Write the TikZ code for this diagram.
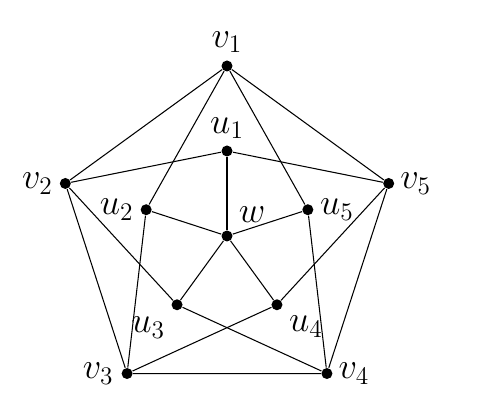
\documentclass[tikz,border=0pt]{standalone}
\usetikzlibrary{calc}
\tikzset{
    vdot/.style={fill=black,circle,inner sep=0,minimum size=2.2mm},
    lbl/.style={inner sep=0,font=\huge},
}
\begin{document}
\begin{tikzpicture}[line width=.6pt]
    \newcommand{\RO}{3.4}
    \newcommand{\RI}{1.7}
    \useasboundingbox(-4.54,-3.52)rectangle(5.02,4.72);
    \node[vdot](w)at(0,0){};
    \foreach \i in {1,...,5}{
        \node[vdot](v\i)at({90+72*(\i-1)}:\RO){};
        \node[vdot](u\i)at({90+72*(\i-1)}:\RI){};
    }
    % outer cycle
    \draw(v1)--(v2)--(v3)--(v4)--(v5)--(v1);
    % u_i joined to the neighbours of v_i
    \draw(v2)--(u1)--(v5);
    \draw(v1)--(u2)--(v3);
    \draw(v2)--(u3)--(v4);
    \draw(v3)--(u4)--(v5);
    \draw(v1)--(u5)--(v4);
    \foreach \i in {1,...,5}\draw(w)--(u\i);
    % labels
    \node[lbl]at($(v1)+(0,.48)$){$v_1$};
    \node[lbl]at($(v2)+(-.56,0)$){$v_2$};
    \node[lbl]at($(v3)+(-.58,0)$){$v_3$};
    \node[lbl]at($(v4)+(.54,0)$){$v_4$};
    \node[lbl]at($(v5)+(.54,0)$){$v_5$};
    \node[lbl]at($(u1)+(0,.46)$){$u_1$};
    \node[lbl]at($(u2)+(-.59,0)$){$u_2$};
    \node[lbl]at($(u3)+(-.58,-.46)$){$u_3$};
    \node[lbl]at($(u4)+(.58,-.44)$){$u_4$};
    \node[lbl]at($(u5)+(.58,0)$){$u_5$};
    \node[lbl]at($(w)+(.5,.42)$){$w$};
\end{tikzpicture}
\end{document}
